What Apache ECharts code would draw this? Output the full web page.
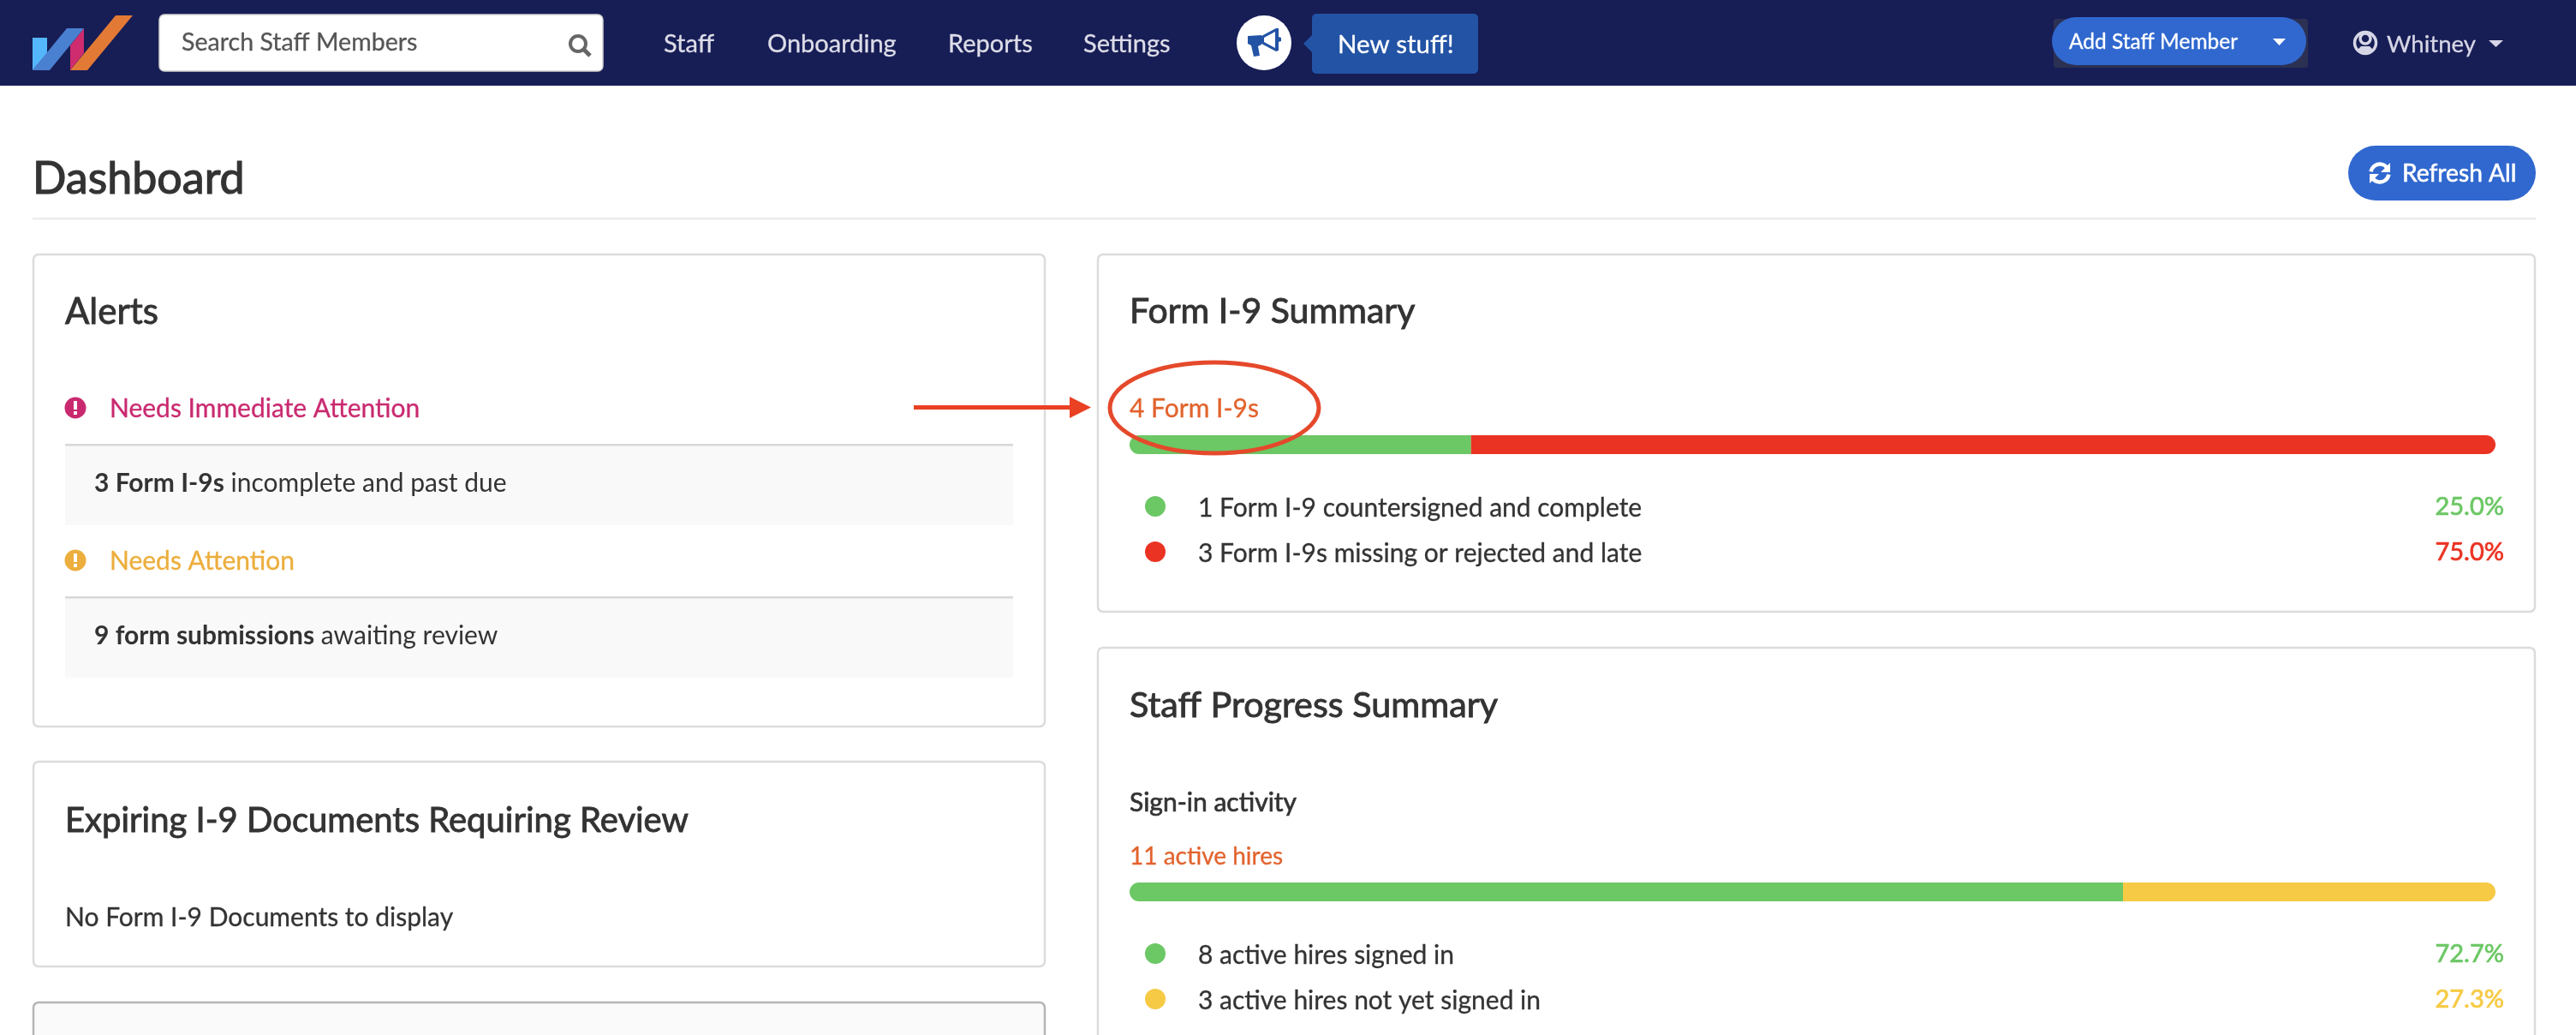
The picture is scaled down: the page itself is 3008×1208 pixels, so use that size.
<!DOCTYPE html>
<html>
<head>
<meta charset="utf-8">
<title>Dashboard</title>
<style>html,body{margin:0;padding:0;background:#fff;overflow:hidden}#c{width:3008px;height:1208px}</style>
<script src="https://cdn.jsdelivr.net/npm/echarts@6/dist/echarts.min.js"></script>
</head>
<body>
<div id="c"></div>
<script>
const formI9Total = '4 Form I-9s';
const formI9Labels = ['1 Form I-9 countersigned and complete', '3 Form I-9s missing or rejected and late'];
const formI9Values = [1, 3];
const formI9Percents = ['25.0%', '75.0%'];
const formI9Colors = ['#6cc765', '#eb3323'];

const signInTotal = '11 active hires';
const signInLabels = ['8 active hires signed in', '3 active hires not yet signed in'];
const signInValues = [8, 3];
const signInPercents = ['72.7%', '27.3%'];
const signInColors = ['#6cc765', '#f6ca44'];

const navLinks = ['Staff', 'Onboarding', 'Reports', 'Settings'];

const FONT = 'Lato';
const INK = '#333333';
const NAV = '#171d55';
const BLUE = '#3068cf';
const ORANGE_TEXT = '#e2632d';

const g = [];
function rect(x, y, w, h, fill, opt) {
  opt = opt || {};
  g.push({type: 'rect', silent: true, z: opt.z || 1, shape: {x, y, width: w, height: h, r: opt.r || 0},
    style: {fill, stroke: opt.stroke || null, lineWidth: opt.lw || 0}});
}
function text(t, x, y, size, fill, opt) {
  opt = opt || {};
  const heavy = opt.heavy === undefined ? 0.3 : opt.heavy;
  g.push({type: 'text', silent: true, z: opt.z || 5, x, y,
    style: {text: t, fill, fontFamily: FONT, fontSize: size, fontWeight: 400,
      stroke: heavy ? fill : null, lineWidth: heavy,
      textAlign: opt.align || 'left', textVerticalAlign: 'middle', verticalAlign: 'middle'}});
}
function poly(points, fill, z) {
  g.push({type: 'polygon', silent: true, z: z || 4, shape: {points}, style: {fill}});
}
function circle(cx, cy, r, fill, opt) {
  opt = opt || {};
  g.push({type: 'circle', silent: true, z: opt.z || 4, shape: {cx, cy, r},
    style: {fill: fill, stroke: opt.stroke || null, lineWidth: opt.lw || 0}});
}

// Top navigation bar
rect(0, 0, 3008, 100, NAV, {z: 1});
poly([[38, 44], [55, 44], [55, 62], [38, 82]], '#55b7fb');
poly([[82, 53], [98, 33], [98, 62], [82, 82]], '#cf2b6f');
poly([[78, 33], [98, 33], [58, 82], [38, 82]], '#4a80d0', 5);
poly([[135, 18], [155, 18], [102, 82], [82, 82]], '#e27a35', 5);

rect(186, 17, 518, 66, '#ffffff', {r: 6, stroke: '#cfcfcf', lw: 1.5, z: 2});
text('Search Staff Members', 212, 50, 28.6, '#555555');
g.push({type: 'circle', silent: true, z: 4, shape: {cx: 675, cy: 51, r: 9}, style: {fill: null, stroke: '#666666', lineWidth: 4}});
g.push({type: 'line', silent: true, z: 4, shape: {x1: 682, y1: 58, x2: 689, y2: 65}, style: {stroke: '#666666', lineWidth: 5}});

const navX = [775, 896, 1107, 1265];
navLinks.forEach((t, i) => text(t, navX[i], 52, 29, '#dddde8'));

circle(1476, 50, 32, '#ffffff');
poly([[1457, 42], [1473, 41], [1473, 52], [1469, 54], [1471, 65], [1464, 66], [1461, 53], [1457, 51]], '#2353a5', 6);
poly([[1473, 42], [1490, 33], [1493, 33], [1493, 59], [1490, 60], [1473, 51]], '#2353a5', 6);
poly([[1476, 44], [1489, 37], [1489, 56], [1476, 49]], '#ffffff', 7);
poly([[1493, 43], [1496, 44], [1496, 48], [1493, 49]], '#2353a5', 6);

rect(1532, 16, 194, 70, '#2353a5', {r: 5, z: 2});
poly([[1522, 51], [1532, 41], [1532, 61]], '#2353a5', 2);
text('New stuff!', 1562, 52, 29.5, '#ffffff');

rect(2398, 22, 297, 57, '#2c3052', {r: 3, z: 2});
rect(2396, 20, 297, 56, BLUE, {r: 28, z: 3});
text('Add Staff Member', 2416, 49, 24.5, '#ffffff');
poly([[2654, 45], [2669, 45], [2661.5, 53]], '#ffffff', 5);

circle(2762, 50, 12.5, null, {stroke: '#d6d6e6', lw: 3.5});
circle(2762, 45, 6, null, {stroke: '#d6d6e6', lw: 3.5});
poly([[2753, 58], [2757, 54], [2767, 54], [2771, 58], [2768, 61], [2756, 61]], '#d6d6e6', 4);
text('Whitney', 2787, 52, 27.5, '#d6d6e6');
poly([[2906, 47], [2923, 47], [2914.5, 55]], '#d6d6e6', 5);

// Page header
text('Dashboard', 38, 209, 52, INK, {heavy: 1.2});
rect(2742, 170, 219, 64, BLUE, {r: 32, z: 2});
g.push({type: 'arc', silent: true, z: 5, shape: {cx: 2779, cy: 202, r: 10.5, startAngle: Math.PI * 1.05, endAngle: Math.PI * 1.8},
  style: {fill: null, stroke: '#ffffff', lineWidth: 4.5}});
g.push({type: 'arc', silent: true, z: 5, shape: {cx: 2779, cy: 202, r: 10.5, startAngle: Math.PI * 0.05, endAngle: Math.PI * 0.8},
  style: {fill: null, stroke: '#ffffff', lineWidth: 4.5}});
poly([[2791, 190], [2791, 201], [2780, 201]], '#ffffff', 6);
poly([[2767, 214], [2767, 203], [2778, 203]], '#ffffff', 6);
text('Refresh All', 2805, 203, 28.2, '#ffffff', {heavy: 0.6});
rect(38, 254, 2923, 2.5, '#ececec', {z: 1});

// Cards
const CARD = {r: 6, stroke: '#dcdcdc', lw: 2.5, z: 1};
rect(39, 297, 1181, 551, '#ffffff', CARD);
rect(39, 889, 1181, 239, '#ffffff', CARD);
rect(39, 1170, 1181, 120, '#fafafa', {r: 6, stroke: '#b5b5b5', lw: 2.5, z: 1});
rect(1282, 297, 1678, 417, '#ffffff', CARD);
rect(1282, 756, 1678, 540, '#ffffff', CARD);

// Alerts card
text('Alerts', 76, 364, 42, INK, {heavy: 0.9});
function alertBlock(color, title, y, bold, rest) {
  circle(88, y, 12.5, color);
  rect(86, y - 8, 4, 10, '#ffffff', {z: 6});
  rect(86, y + 4, 4, 4, '#ffffff', {z: 6});
  text(title, 128, y + 1, 30, color);
  rect(76, y + 42, 1107, 2.5, '#d8d8d8', {z: 3});
  rect(76, y + 44, 1107, 93, '#f9f9f9', {z: 2});
  g.push({type: 'text', silent: true, z: 5, x: 110, y: y + 88,
    style: {text: '{b|' + bold + '}{r|\u00a0' + rest + '}', fontFamily: FONT, verticalAlign: 'middle',
      rich: {b: {fontFamily: FONT, fontSize: 30, fontWeight: 700, fill: INK, color: INK},
             r: {fontFamily: FONT, fontSize: 30, fontWeight: 400, fill: INK, color: INK}}}});
}
alertBlock('#c92a6f', 'Needs Immediate Attention', 476, '3 Form I-9s', 'incomplete and past due');
alertBlock('#ecae3d', 'Needs Attention', 654, '9 form submissions', 'awaiting review');

// Expiring card
text('Expiring I-9 Documents Requiring Review', 76, 958, 40, INK, {heavy: 0.9});
text('No Form I-9 Documents to display', 76, 1071, 30, INK);

// Summary cards
function summaryRows(labels, percents, colors, ys) {
  labels.forEach((t, i) => {
    circle(1349, ys[i], 12, colors[i]);
    text(t, 1399, ys[i] + 2, 30, INK);
    text(percents[i], 2924, ys[i] + 1, 29, colors[i], {align: 'right', heavy: 0.7});
  });
}
text('Form I-9 Summary', 1319, 364, 41, INK, {heavy: 0.9});
text(formI9Total, 1319, 477, 30, ORANGE_TEXT);
summaryRows(formI9Labels, formI9Percents, formI9Colors, [591, 644]);

text('Staff Progress Summary', 1319, 824, 41.3, INK, {heavy: 0.9});
text('Sign-in activity', 1319, 937, 30, INK, {heavy: 0.7});
text(signInTotal, 1319, 1000, 28, ORANGE_TEXT);
summaryRows(signInLabels, signInPercents, signInColors, [1113, 1166]);

// Annotation: arrow and ellipse
g.push({type: 'ellipse', silent: true, z: 20, shape: {cx: 1418, cy: 476, rx: 122, ry: 53},
  style: {fill: null, stroke: '#e5492b', lineWidth: 5}});
rect(1067, 473, 185, 5, '#ea4023', {z: 20});
poly([[1249, 463], [1274, 475.5], [1249, 488]], '#ea4023', 20);

function stackedBar(name, values, colors, gridIndex) {
  return values.map((v, i) => ({
    type: 'bar', name: name + i, stack: name, xAxisIndex: gridIndex, yAxisIndex: gridIndex,
    data: [v], barWidth: 22, silent: true, animation: false, z: 3,
    itemStyle: {color: colors[i], borderRadius: i === 0 ? [11, 0, 0, 11] : [0, 11, 11, 0]}
  }));
}
const sum = a => a.reduce((p, c) => p + c, 0);

const chart = echarts.init(document.getElementById('c'), null, {renderer: 'canvas', width: 3008, height: 1208});
chart.setOption({
  animation: false,
  backgroundColor: '#ffffff',
  grid: [
    {left: 1319, top: 508, width: 1595, height: 22},
    {left: 1319, top: 1030, width: 1595, height: 22}
  ],
  xAxis: [
    {type: 'value', gridIndex: 0, min: 0, max: sum(formI9Values), show: false},
    {type: 'value', gridIndex: 1, min: 0, max: sum(signInValues), show: false}
  ],
  yAxis: [
    {type: 'category', gridIndex: 0, data: [formI9Total], show: false},
    {type: 'category', gridIndex: 1, data: [signInTotal], show: false}
  ],
  series: [].concat(
    stackedBar('formI9', formI9Values, formI9Colors, 0),
    stackedBar('signIn', signInValues, signInColors, 1)
  ),
  graphic: {elements: g}
});
</script>
</body>
</html>
